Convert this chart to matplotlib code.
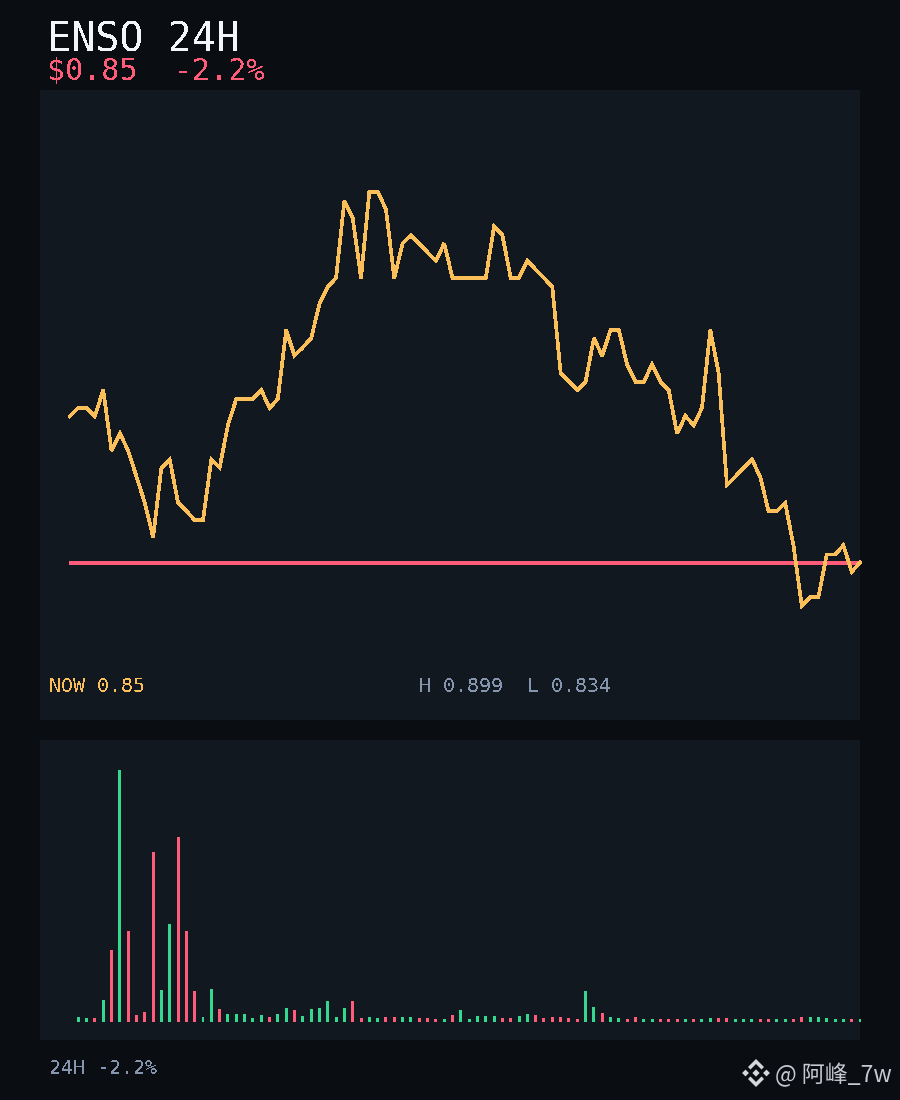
import matplotlib
matplotlib.use('Agg')
import matplotlib.pyplot as plt
from matplotlib.patches import Polygon

# Price samples
prices = [
    0.8638, 0.8651, 0.8651, 0.8638, 0.8679, 0.8584, 0.8611, 0.8584, 0.8543, 0.8502,
    0.8448, 0.8557, 0.8570, 0.8502, 0.8489, 0.8475, 0.8475, 0.8570, 0.8557, 0.8624,
    0.8665, 0.8665, 0.8665, 0.8679, 0.8651, 0.8665, 0.8773, 0.8733, 0.8746, 0.8760,
    0.8814, 0.8841, 0.8855, 0.8976, 0.8949, 0.8855, 0.8990, 0.8990, 0.8963, 0.8855,
    0.8909, 0.8922, 0.8909, 0.8895, 0.8882, 0.8909, 0.8855, 0.8855, 0.8855, 0.8855,
    0.8855, 0.8936, 0.8922, 0.8855, 0.8855, 0.8882, 0.8868, 0.8855, 0.8841, 0.8706,
    0.8692, 0.8679, 0.8692, 0.8760, 0.8733, 0.8773, 0.8773, 0.8719, 0.8692, 0.8692,
    0.8719, 0.8692, 0.8679, 0.8611, 0.8638, 0.8624, 0.8651, 0.8773, 0.8706, 0.8530,
    0.8543, 0.8557, 0.8570, 0.8543, 0.8489, 0.8489, 0.8502, 0.8435, 0.8340, 0.8354,
    0.8354, 0.8421, 0.8421, 0.8435, 0.8394, 0.8408,
]
ref_price = 0.8408

# Volume bars start at the second price sample
volumes = [
    5, 4, 4, 22, 72, 252, 91, 7, 10, 170, 32, 98, 185, 91, 31, 5, 33, 13, 8, 8,
    8, 4, 7, 5, 8, 14, 12, 6, 13, 14, 21, 5, 14, 21, 4, 5, 4, 5, 5, 5,
    5, 4, 4, 3, 3, 7, 12, 3, 6, 6, 6, 4, 4, 6, 8, 7, 4, 5, 5, 4,
    3, 31, 15, 9, 5, 4, 3, 5, 3, 3, 3, 3, 3, 3, 3, 3, 4, 4, 4, 3,
    3, 3, 3, 3, 3, 3, 3, 5, 5, 5, 4, 3, 3, 3, 3,
]
directions = list(
    'GGRGRGRRRRGGRRRGGRGGGGGRGGRGGGGGGR'
    'RGGRRGGRRRGRGGGGGRRGGRRRRRRGGRGG'
    'RRGGRRRGRGGRRGGGRRGGRRGGGGGRG'
)

title = 'ENSO 24H'
price_label = '$0.85  -2.2%'
now_label = 'NOW 0.85'
range_label = 'H 0.899  L 0.834'
footer_label = '24H -2.2%'
watermark = '@ 阿峰_7w'

BG = '#0a0d12'
PANEL = '#111820'
AMBER = '#fbbf5a'
RED = '#ff5c7a'
GREEN = '#34d98f'
SLATE = '#8595ad'
W, H = 900, 1100


def box(x0, y0, x1, y1):
    return [x0 / W, 1 - y1 / H, (x1 - x0) / W, (y1 - y0) / H]


def label(x, y, s, px, color, **kw):
    kw.setdefault('family', 'DejaVu Sans Mono')
    kw.setdefault('antialiased', False)
    fig.text(x / W, 1 - y / H, s, fontsize=px * 0.72, color=color, va='baseline', **kw)


fig = plt.figure(figsize=(W / 100, H / 100), dpi=100, facecolor=BG)

# Price panel
ax = fig.add_axes(box(40, 90, 860, 720), facecolor=PANEL)
ax.plot(range(len(prices)), prices, color=AMBER, lw=1.9, clip_on=False,
        antialiased=False, solid_joinstyle='miter', zorder=3)
ax.hlines(ref_price, -0.1, len(prices) - 1, color=RED, lw=1.7, antialiased=False, zorder=2)
ax.set_xlim(-3.6, 95)
ax.set_ylim(0.8161, 0.9150)
ax.axis('off')
ax.add_artist(plt.Rectangle((0, 0), 1, 1, transform=ax.transAxes, color=PANEL, zorder=0))

# Volume panel
vax = fig.add_axes(box(40, 740, 860, 1040), facecolor=PANEL)
bar_colors = [GREEN if d == 'G' else RED for d in directions]
bars = vax.bar(range(1, len(volumes) + 1), volumes, width=0.36, color=bar_colors,
               antialiased=False, clip_on=False, zorder=2)
vax.set_xlim(-3.6, 95)
vax.set_ylim(-18, 282)
vax.axis('off')
vax.add_artist(plt.Rectangle((0, 0), 1, 1, transform=vax.transAxes, color=PANEL, zorder=0))

# Text
label(47, 52, title, 40, '#f2f5fa')
label(47, 79, price_label, 30, RED)
label(49, 692, now_label, 20, AMBER)
label(419, 692, range_label, 20, SLATE)
label(49, 1074, footer_label, 20, SLATE)
label(775, 1082, watermark, 23, '#c6cad0', family=['Noto Sans CJK SC', 'DejaVu Sans'],
      antialiased=True)

# Exchange logo next to the watermark
lay = fig.add_axes([0, 0, 1, 1], facecolor='none')
lay.set_xlim(0, W)
lay.set_ylim(H, 0)
lay.axis('off')
logo = '#d5d8dc'
cx, cy = 756, 1073
for dx, dy, r in [(0, 0, 3.6), (-10.5, 0, 3.4), (10.5, 0, 3.4)]:
    lay.add_patch(Polygon([(cx + dx - r, cy + dy), (cx + dx, cy + dy - r),
                           (cx + dx + r, cy + dy), (cx + dx, cy + dy + r)],
                          color=logo, lw=0))
for s in (-1, 1):
    lay.add_patch(Polygon([(cx - 8, cy + s * 6), (cx, cy + s * 14), (cx + 8, cy + s * 6),
                           (cx + 5.5, cy + s * 3.5), (cx, cy + s * 9), (cx - 5.5, cy + s * 3.5)],
                          color=logo, lw=0))

fig.savefig('out.png', dpi=100, facecolor=BG)
